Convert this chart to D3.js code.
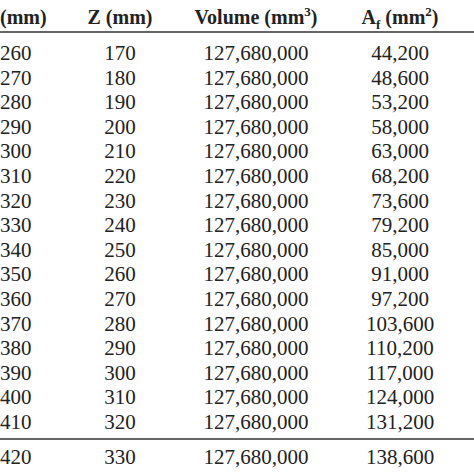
<!DOCTYPE html>
<html><head><meta charset="utf-8">
<script src="https://cdn.jsdelivr.net/npm/d3@7"></script>
<style>body{margin:0;background:#fff}</style>
</head><body>
<svg id="chart" width="474" height="474"></svg>
<script>
// Tabellendaten
const rLen = [260,270,280,290,300,310,320,330,340,350,360,370,380,390,400,410,420];
const zLen = [170,180,190,200,210,220,230,240,250,260,270,280,290,300,310,320,330];
const volume = Array(17).fill("127,680,000");
const aF = ["44,200","48,600","53,200","58,000","63,000","68,200","73,600","79,200","85,000","91,000","97,200","103,600","110,200","117,000","124,000","131,200","138,600"];

const svg = d3.select("#chart");
const font = "'Liberation Serif', serif";
const y = d3.scaleLinear().domain([0, 15]).range([53, 422]);
const yOf = i => i < 16 ? y(i) : y(15) + 35;

// Kopfzeile
const hdr = (x, anchor) => svg.append("text").attr("x", x).attr("y", 24)
  .attr("text-anchor", anchor).attr("font-family", font)
  .attr("font-size", 20).attr("font-weight", "bold").attr("fill", "#222");
hdr(0, "start").text("(mm)");
hdr(120, "middle").text("Z (mm)");
const v = hdr(256, "middle");
v.append("tspan").text("Volume (mm");
v.append("tspan").attr("dy", -8).attr("font-size", 13).text("3");
v.append("tspan").attr("dy", 8).text(")");
const a = hdr(400, "middle");
a.append("tspan").text("A");
a.append("tspan").attr("dy", 5).attr("font-size", 13).text("f");
a.append("tspan").attr("dy", -5).text(" (mm");
a.append("tspan").attr("dy", -8).attr("font-size", 13).text("2");
a.append("tspan").attr("dy", 8).text(")");

// Linien
[32, yOf(15) + 17].forEach(ly => svg.append("line").attr("x1", 0).attr("x2", 474)
  .attr("y1", ly).attr("y2", ly).attr("stroke", "#666").attr("stroke-width", 2));

// Zeilen
const cols = [
  {vals: rLen, x: 0, anchor: "start"},
  {vals: zLen, x: 120, anchor: "middle"},
  {vals: volume, x: 256, anchor: "middle"},
  {vals: aF, x: 400, anchor: "middle"}
];
cols.forEach(c => {
  svg.append("g").selectAll("text").data(c.vals).enter().append("text")
    .attr("x", c.x).attr("y", (d, i) => yOf(i) + 7)
    .attr("text-anchor", c.anchor).attr("font-family", font)
    .attr("font-size", 21).attr("fill", "#222").text(d => d);
});
</script>
</body></html>
